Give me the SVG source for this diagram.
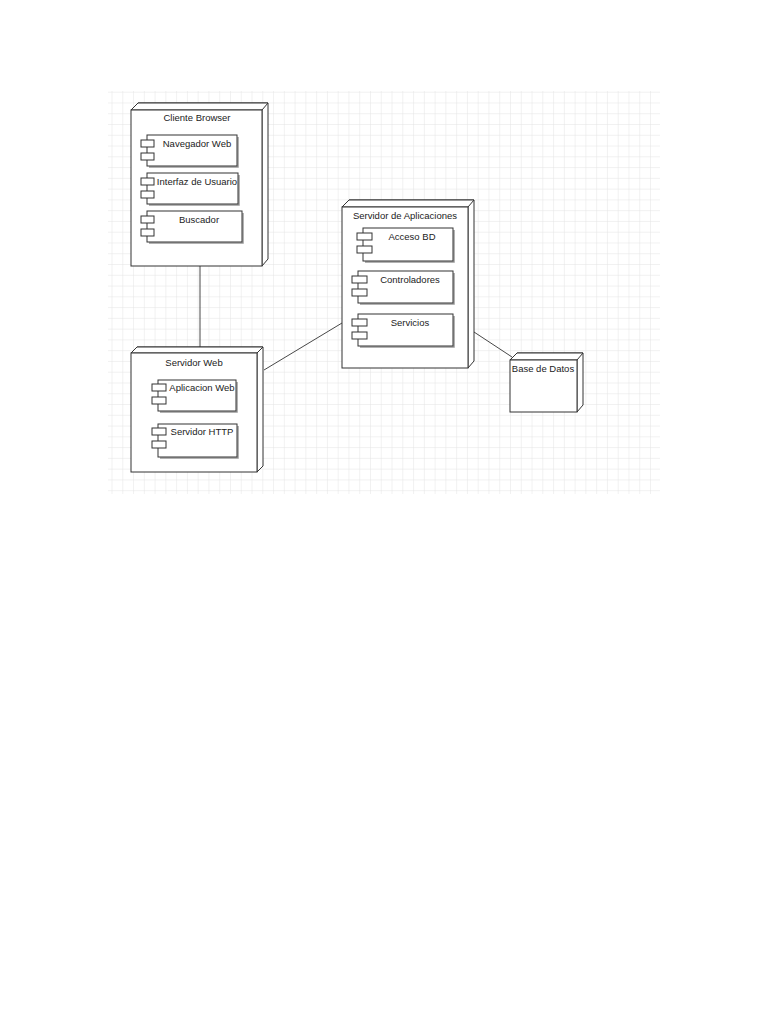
<svg xmlns="http://www.w3.org/2000/svg" width="768" height="1024" viewBox="0 0 768 1024">
<defs>
<pattern id="grid" x="510" y="91.7" width="10.77" height="10.77" patternUnits="userSpaceOnUse">
<path d="M0 0H10.77M0 0V10.77" fill="none" stroke="#e4e4e4" stroke-width="1"/>
</pattern>
<style>
.node{fill:#fff;stroke:#333;stroke-width:1}
.side{fill:#fff;stroke:#333;stroke-width:1}
.comp{fill:#fff;stroke:#333;stroke-width:1}
.shadow{fill:none;stroke:#999;stroke-width:1.5}
.pin{fill:#fff;stroke:#333;stroke-width:1}
.lbl{font-family:"Liberation Sans",Arial,sans-serif;font-size:9.5px;fill:#222;text-anchor:middle}
.conn{stroke:#333;stroke-width:0.9;fill:none}
</style>
</defs>
<rect width="768" height="1024" fill="#fff"/>
<rect x="108" y="91" width="552" height="403" fill="url(#grid)"/>

<g id="connectors">
<line class="conn" x1="200" y1="266" x2="200" y2="347"/>
<line class="conn" x1="264" y1="370" x2="342" y2="323"/>
<line class="conn" x1="474" y1="332" x2="512" y2="357"/>
</g>

<g id="cliente-browser">
<path class="side" d="M131 110L138 103H268V259L262 266V110Z"/>
<path class="side" d="M131 110L138 103H268L262 110Z"/>
<rect class="node" x="131" y="110" width="131" height="156"/>
<text class="lbl" x="197" y="121">Cliente Browser</text>
</g>
<g id="navegador-web">
<path class="shadow" d="M238 137V167H149"/>
<rect class="comp" x="147" y="135" width="90" height="31"/>
<rect class="pin" x="141" y="140" width="13" height="7"/>
<rect class="pin" x="141" y="153" width="13" height="7"/>
<text class="lbl" x="197" y="147">Navegador Web</text>
</g>
<g id="interfaz-usuario">
<path class="shadow" d="M239 175V205H149"/>
<rect class="comp" x="147" y="173" width="91" height="31"/>
<rect class="pin" x="141" y="178" width="13" height="7"/>
<rect class="pin" x="141" y="191" width="13" height="7"/>
<text class="lbl" x="197" y="185">Interfaz de Usuario</text>
</g>
<g id="buscador">
<path class="shadow" d="M243 213V243H149"/>
<rect class="comp" x="147" y="211" width="95" height="31"/>
<rect class="pin" x="141" y="216" width="13" height="7"/>
<rect class="pin" x="141" y="229" width="13" height="7"/>
<text class="lbl" x="199" y="223">Buscador</text>
</g>

<g id="servidor-web">
<path class="side" d="M131 353L137 347H263V466L257 472V353Z"/>
<path class="side" d="M131 353L137 347H263L257 353Z"/>
<rect class="node" x="131" y="353" width="126" height="119"/>
<text class="lbl" x="194" y="366">Servidor Web</text>
</g>
<g id="aplicacion-web">
<path class="shadow" d="M237 382V412H160"/>
<rect class="comp" x="158" y="380" width="78" height="31"/>
<rect class="pin" x="152" y="384" width="14" height="7"/>
<rect class="pin" x="152" y="397" width="14" height="7"/>
<text class="lbl" x="202" y="391">Aplicacion Web</text>
</g>
<g id="servidor-http">
<path class="shadow" d="M238 426V458H160"/>
<rect class="comp" x="158" y="424" width="79" height="33"/>
<rect class="pin" x="152" y="428" width="14" height="7"/>
<rect class="pin" x="152" y="441" width="14" height="7"/>
<text class="lbl" x="202" y="435">Servidor HTTP</text>
</g>

<g id="servidor-aplicaciones">
<path class="side" d="M342 207L349 200H474V361L468 368V207Z"/>
<path class="side" d="M342 207L349 200H474L468 207Z"/>
<rect class="node" x="342" y="207" width="126" height="161"/>
<text class="lbl" x="405" y="219">Servidor de Aplicaciones</text>
</g>
<g id="acceso-bd">
<path class="shadow" d="M454 230V262H365"/>
<rect class="comp" x="363" y="228" width="90" height="33"/>
<rect class="pin" x="357" y="233" width="15" height="7"/>
<rect class="pin" x="357" y="246" width="15" height="7"/>
<text class="lbl" x="412" y="240">Acceso BD</text>
</g>
<g id="controladores">
<path class="shadow" d="M454 273V304H360"/>
<rect class="comp" x="358" y="271" width="95" height="32"/>
<rect class="pin" x="352" y="276" width="15" height="7"/>
<rect class="pin" x="352" y="289" width="15" height="7"/>
<text class="lbl" x="410" y="283">Controladores</text>
</g>
<g id="servicios">
<path class="shadow" d="M454 316V347H360"/>
<rect class="comp" x="358" y="314" width="95" height="32"/>
<rect class="pin" x="352" y="319" width="15" height="7"/>
<rect class="pin" x="352" y="332" width="15" height="7"/>
<text class="lbl" x="410" y="326">Servicios</text>
</g>

<g id="base-datos">
<path class="side" d="M510 360L517 353H583V405L577 412V360Z"/>
<path class="side" d="M510 360L517 353H583L577 360Z"/>
<rect class="node" x="510" y="360" width="67" height="52"/>
<text class="lbl" x="543" y="372">Base de Datos</text>
</g>
</svg>
